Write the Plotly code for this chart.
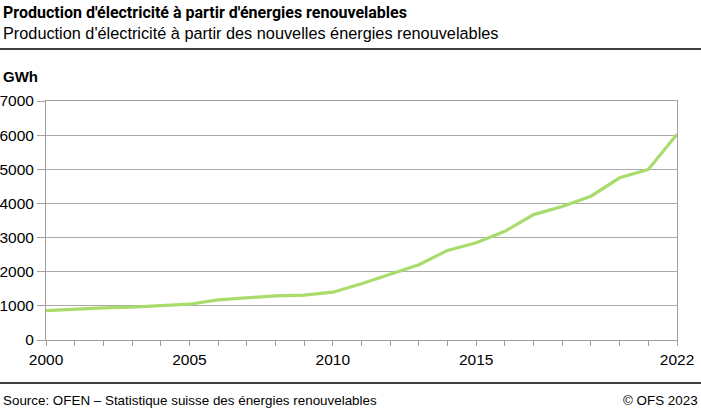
import plotly.graph_objects as go

years = list(range(2000, 2023))
production_gwh = [862, 910, 940, 960, 1000, 1048, 1175, 1234, 1293, 1312, 1400,
                  1645, 1930, 2204, 2625, 2850, 3183, 3673, 3908, 4212, 4750,
                  4995, 6024]
x_tick_vals = [2000, 2005, 2010, 2015, 2022]
y_tick_vals = [0, 1000, 2000, 3000, 4000, 5000, 6000, 7000]

font = "Liberation Sans, Arial, sans-serif"
title_font = "Roboto, Liberation Sans, sans-serif"

W, H = 701, 410
L, R, T, B = 46, 24, 101, 70
pw, ph = W - L - R, H - T - B


def px(x):
    return (x - L) / pw


def py(y):
    return (H - B - y) / ph


fig = go.Figure(
    go.Scatter(
        x=years,
        y=production_gwh,
        mode="lines",
        line=dict(color="#a8dc6c", width=3.2),
        hoverinfo="x+y",
    )
)

fig.update_layout(
    width=W,
    height=H,
    margin=dict(l=L, r=R, t=T, b=B, autoexpand=False),
    paper_bgcolor="white",
    plot_bgcolor="white",
    showlegend=False,
    font=dict(family=font, color="#000000", size=15),
)

fig.update_xaxes(
    automargin=False,
    range=[2000, 2022],
    tickmode="array",
    tickvals=x_tick_vals,
    ticktext=[str(v) for v in x_tick_vals],
    showgrid=False,
    zeroline=False,
    showline=True,
    linecolor="#a0a0a0",
    linewidth=1,
    mirror=True,
    ticks="outside",
    ticklen=5,
    tickcolor="#a0a0a0",
    tickfont=dict(size=15.5),
    minor=dict(
        tickmode="array",
        tickvals=years,
        ticks="outside",
        ticklen=5,
        tickcolor="#a0a0a0",
        showgrid=False,
    ),
)

fig.update_yaxes(
    automargin=False,
    range=[0, 7000],
    tickmode="array",
    tickvals=y_tick_vals,
    showgrid=True,
    gridcolor="#aaaaaa",
    gridwidth=1,
    zeroline=False,
    showline=True,
    linecolor="#a0a0a0",
    linewidth=1,
    mirror=True,
    ticks="outside",
    ticklen=8,
    tickcolor="#a0a0a0",
    tickfont=dict(size=15.5),
)

fig.add_annotation(
    text="<b>Production d'électricité à partir d'énergies renouvelables</b>",
    xref="paper", yref="paper", x=px(1), y=py(12),
    xanchor="left", yanchor="middle", showarrow=False,
    font=dict(size=16, family=title_font),
)
fig.add_annotation(
    text="Production d'électricité à partir des nouvelles énergies renouvelables",
    xref="paper", yref="paper", x=px(1), y=py(33),
    xanchor="left", yanchor="middle", showarrow=False,
    font=dict(size=16.3, family=font),
)
fig.add_annotation(
    text="<b>GWh</b>",
    xref="paper", yref="paper", x=px(1), y=py(76),
    xanchor="left", yanchor="middle", showarrow=False,
    font=dict(size=15, family=font),
)
fig.add_annotation(
    text="Source: OFEN – Statistique suisse des énergies renouvelables",
    xref="paper", yref="paper", x=px(1), y=py(400),
    xanchor="left", yanchor="middle", showarrow=False,
    font=dict(size=13.4, family=font),
)
fig.add_annotation(
    text="© OFS 2023",
    xref="paper", yref="paper", x=px(700), y=py(400),
    xanchor="right", yanchor="middle", showarrow=False,
    font=dict(size=13.4, family=font),
)

# rules above the chart and above the source line
for rule_y in (49, 383):
    fig.add_shape(type="line", xref="paper", yref="paper",
                  x0=px(0), x1=px(W), y0=py(rule_y), y1=py(rule_y),
                  line=dict(color="#000000", width=1.5))

# drop the browser's default body margin so the chart sits at the window corner
fig.write_html(
    "out.html",
    config={"displayModeBar": False},
    post_script="document.body.style.margin='0';",
)
